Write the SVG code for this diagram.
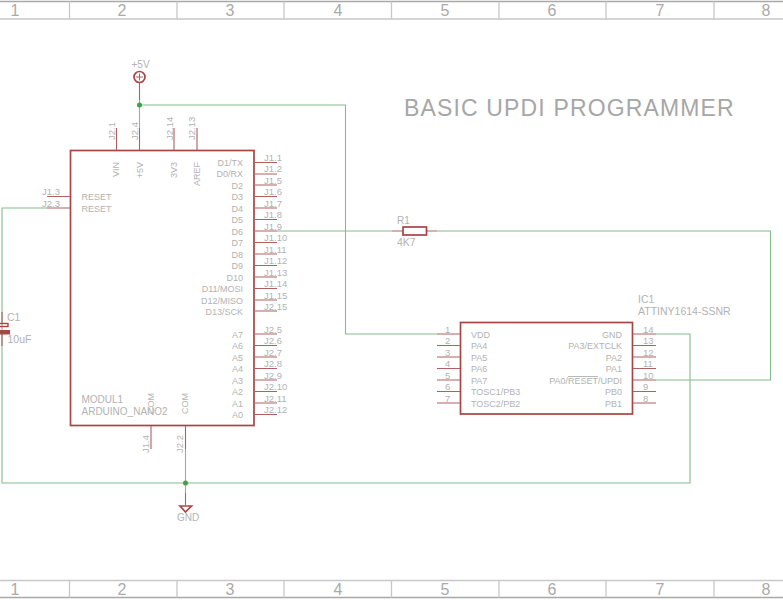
<svg xmlns="http://www.w3.org/2000/svg" width="783" height="600" viewBox="0 0 783 600">
<style>
text{font-family:"Liberation Sans",Arial,sans-serif;fill:#b2b2b2;font-size:9px}
.pin{fill:none;stroke:#b06060;stroke-width:1.1}
.body{fill:none;stroke:#a84545;stroke-width:1.7}
.wire{fill:none;stroke:#85bc8c;stroke-width:1.1}
.dot{fill:#3f9f4a}
.frame{fill:none;stroke:#c8c8c8;stroke-width:1.3}
.edge{fill:none;stroke:#a8a8a8;stroke-width:1.5}
.fno{font-size:16px;fill:#aaa;text-anchor:middle}
.end{text-anchor:end}
.num{font-size:9.5px}
.lbl{font-size:10px}
</style>
<g id="frame">
<path class="edge" d="M0 1.500H783M0 597.500H783"/>
<path class="frame" d="M0 19H783M0 580.500H783"/>
<path class="frame" d="M69.500 1.500V19M177 1.500V19M284 1.500V19M391.500 1.500V19M499 1.500V19M606 1.500V19M714 1.500V19M69.500 580.500V597.500M177 580.500V597.500M284 580.500V597.500M391.500 580.500V597.500M499 580.500V597.500M606 580.500V597.500M714 580.500V597.500"/>
<text class="fno" x="15" y="16">1</text><text class="fno" x="122" y="16">2</text><text class="fno" x="230" y="16">3</text><text class="fno" x="338" y="16">4</text><text class="fno" x="445" y="16">5</text><text class="fno" x="552" y="16">6</text><text class="fno" x="660" y="16">7</text><text class="fno" x="766" y="16">8</text>
<text class="fno" x="15" y="595">1</text><text class="fno" x="122" y="595">2</text><text class="fno" x="230" y="595">3</text><text class="fno" x="338" y="595">4</text><text class="fno" x="445" y="595">5</text><text class="fno" x="552" y="595">6</text><text class="fno" x="660" y="595">7</text><text class="fno" x="766" y="595">8</text>
</g>
<g id="connectors">
<path class="wire" d="M139.500 100V128M139.500 105H345.500V334H437"/>
<path class="wire" d="M277 231H392M437 231H770.500V380H656"/>
<path class="wire" d="M656 334H690V483H2V208H47M185.500 449V493"/>
<circle class="dot" cx="139.500" cy="105" r="2.500"/>
<circle class="dot" cx="185.500" cy="483" r="2.500"/>
</g>
<text id="title" x="404" y="116" style="font-size:23px;letter-spacing:1.15px;fill:#a6a6a6">BASIC UPDI PROGRAMMER</text>
<g id="supply-5v">
<text class="lbl" x="131.500" y="68">+5V</text>
<circle cx="139.500" cy="77" r="5.500" fill="none" stroke="#a84545" stroke-width="1.700"/>
<path class="pin" d="M136 77H143M139.500 73.500V80.500M139.500 83V100"/>
</g>
<g id="supply-gnd">
<path class="pin" d="M185.500 493V505"/>
<path d="M180 506H191.500L185.500 512Z" fill="none" stroke="#a84545" stroke-width="1.700"/>
<text class="lbl" x="177" y="520.500">GND</text>
</g>
<g id="MODUL1">
<rect class="body" x="70.500" y="150.500" width="183.500" height="275"/>
<path class="pin" d="M116.500 128V150M139.500 128V150M174 128V150M197 128V150M47 196.500H70M47 208H70M151 426V449M185.500 426V449"/>
<path class="pin" d="M254 162.500H277M254 174H277M254 185H277M254 196.500H277M254 208H277M254 219.500H277M254 231H277M254 242.500H277M254 254H277M254 265.500H277M254 277H277M254 288.500H277M254 300H277M254 311H277M254 334H277M254 345.500H277M254 357H277M254 368.500H277M254 380H277M254 391.500H277M254 403H277M254 414.500H277"/>
<g>
<text class="num" x="264" y="160.500">J1.1</text><text class="num" x="264" y="172">J1.2</text><text class="num" x="264" y="183.500">J1.5</text><text class="num" x="264" y="195">J1.6</text><text class="num" x="264" y="206.500">J1.7</text><text class="num" x="264" y="218">J1.8</text><text class="num" x="264" y="229.500">J1.9</text><text class="num" x="264" y="241">J1.10</text><text class="num" x="264" y="252.500">J1.11</text><text class="num" x="264" y="264">J1.12</text><text class="num" x="264" y="275.500">J1.13</text><text class="num" x="264" y="287">J1.14</text><text class="num" x="264" y="298.500">J1.15</text><text class="num" x="264" y="310">J2.15</text>
<text class="num" x="264" y="332.500">J2.5</text><text class="num" x="264" y="344">J2.6</text><text class="num" x="264" y="355.500">J2.7</text><text class="num" x="264" y="367">J2.8</text><text class="num" x="264" y="378.500">J2.9</text><text class="num" x="264" y="390">J2.10</text><text class="num" x="264" y="401.500">J2.11</text><text class="num" x="264" y="413">J2.12</text>
<text class="num" x="42" y="195">J1.3</text><text class="num" x="42" y="206.500">J2.3</text>
<text class="num" transform="rotate(-90 115 140)" x="115" y="140">J2.1</text>
<text class="num" transform="rotate(-90 137.500 140)" x="137.500" y="140">J2.4</text>
<text class="num" transform="rotate(-90 172.500 140)" x="172.500" y="140">J2.14</text>
<text class="num" transform="rotate(-90 195 140)" x="195" y="140">J2.13</text>
<text class="num" transform="rotate(-90 149 453)" x="149" y="453">J1.4</text>
<text class="num" transform="rotate(-90 183 453)" x="183" y="453">J2.2</text>
</g>
<g>
<text class="end" x="243" y="166">D1/TX</text><text class="end" x="243" y="177">D0/RX</text><text class="end" x="243" y="189">D2</text><text class="end" x="243" y="200">D3</text><text class="end" x="243" y="212">D4</text><text class="end" x="243" y="223">D5</text><text class="end" x="243" y="235">D6</text><text class="end" x="243" y="246">D7</text><text class="end" x="243" y="258">D8</text><text class="end" x="243" y="269">D9</text><text class="end" x="243" y="281">D10</text><text class="end" x="243" y="292">D11/MOSI</text><text class="end" x="243" y="304">D12/MISO</text><text class="end" x="243" y="315">D13/SCK</text>
<text class="end" x="243" y="338">A7</text><text class="end" x="243" y="349">A6</text><text class="end" x="243" y="361">A5</text><text class="end" x="243" y="372">A4</text><text class="end" x="243" y="384">A3</text><text class="end" x="243" y="395">A2</text><text class="end" x="243" y="407">A1</text><text class="end" x="243" y="418">A0</text>
<text x="81.500" y="200">RESET</text><text x="81.500" y="211.500">RESET</text>
<text class="end" transform="rotate(-90 119 162)" x="119" y="162">VIN</text>
<text class="end" transform="rotate(-90 143 162)" x="143" y="162">+5V</text>
<text class="end" transform="rotate(-90 177 162)" x="177" y="162">3V3</text>
<text class="end" transform="rotate(-90 200 162)" x="200" y="162">AREF</text>
<text transform="rotate(-90 154 414)" x="154" y="414">COM</text>
<text transform="rotate(-90 188 414)" x="188" y="414">COM</text>
<text class="lbl" x="81.500" y="403">MODUL1</text>
<text class="lbl" x="81.500" y="414.500">ARDUINO_NANO2</text>
</g>
</g>
<g id="C1">
<path class="pin" d="M2 312V323M2 334V346"/>
<rect x="-3" y="323.500" width="11" height="3" fill="none" stroke="#a84545" stroke-width="1.400"/>
<rect x="-3" y="330" width="13" height="4.500" fill="#a84545"/>
<text x="7" y="320.500" style="font-size:10.500px">C1</text>
<text x="7.500" y="343" style="font-size:10.500px">10uF</text>
</g>
<g id="R1">
<path class="pin" d="M392 231H403M426.500 231H437"/>
<rect class="body" x="403" y="227" width="23.500" height="8"/>
<text class="lbl" x="397" y="224">R1</text>
<text x="397" y="246" style="font-size:10.500px">4K7</text>
</g>
<g id="IC1">
<rect class="body" x="460.500" y="322.500" width="172" height="91.500"/>
<path class="pin" d="M437 334H460M437 345.500H460M437 357H460M437 368.500H460M437 380H460M437 391.500H460M437 403H460M633 334H656M633 345.500H656M633 357H656M633 368.500H656M633 380H656M633 391.500H656M633 403H656"/>
<text x="638" y="303" style="font-size:10.500px">IC1</text>
<text x="638" y="315" style="font-size:10.500px">ATTINY1614-SSNR</text>
<text x="471" y="338">VDD</text><text x="471" y="349">PA4</text><text x="471" y="361">PA5</text><text x="471" y="372">PA6</text><text x="471" y="384">PA7</text><text x="471" y="395">TOSC1/PB3</text><text x="471" y="407">TOSC2/PB2</text>
<text class="end" x="622" y="338">GND</text><text class="end" x="622" y="349">PA3/EXTCLK</text><text class="end" x="622" y="361">PA2</text><text class="end" x="622" y="372">PA1</text><text class="end" x="622" y="384">PA0/<tspan style="text-decoration:overline">RESET</tspan>/UPDI</text><text class="end" x="622" y="395">PB0</text><text class="end" x="622" y="407">PB1</text>
<text class="num" x="445" y="332.500">1</text><text class="num" x="445" y="344">2</text><text class="num" x="445" y="355.500">3</text><text class="num" x="445" y="367">4</text><text class="num" x="445" y="378.500">5</text><text class="num" x="445" y="390">6</text><text class="num" x="445" y="401.500">7</text>
<text class="num" x="643" y="332.500">14</text><text class="num" x="643" y="344">13</text><text class="num" x="643" y="355.500">12</text><text class="num" x="643" y="367">11</text><text class="num" x="643" y="378.500">10</text><text class="num" x="643" y="390">9</text><text class="num" x="643" y="401.500">8</text>
</g>
</svg>
